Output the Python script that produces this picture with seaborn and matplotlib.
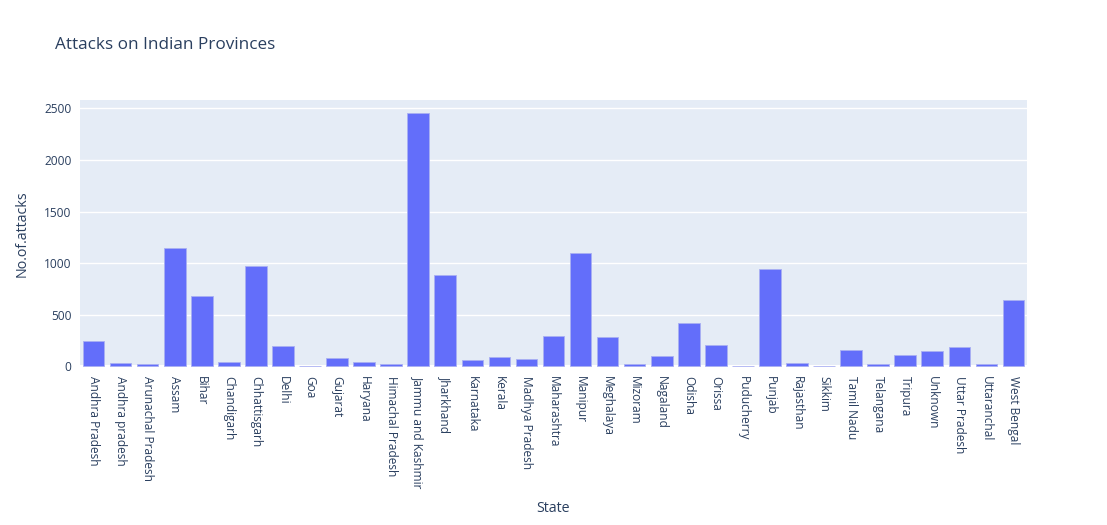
import pandas as pd
import seaborn as sns
import matplotlib.pyplot as plt


states = ['Andhra Pradesh', 'Andhra pradesh', 'Arunachal Pradesh', 'Assam', 'Bihar',
          'Chandigarh', 'Chhattisgarh', 'Delhi', 'Goa', 'Gujarat', 'Haryana',
          'Himachal Pradesh', 'Jammu and Kashmir', 'Jharkhand', 'Karnataka', 'Kerala',
          'Madhya Pradesh', 'Maharashtra', 'Manipur', 'Meghalaya', 'Mizoram', 'Nagaland',
          'Odisha', 'Orissa', 'Puducherry', 'Punjab', 'Rajasthan', 'Sikkim', 'Tamil Nadu',
          'Telangana', 'Tripura', 'Unknown', 'Uttar Pradesh', 'Uttaranchal', 'West Bengal']
attacks = [245, 36, 20, 1145, 685, 42, 972, 203, 2, 78, 45,
           20, 2450, 882, 64, 90, 68, 296, 1097, 286, 20, 106,
           420, 212, 1, 945, 35, 1, 158, 20, 109, 148, 193, 20, 647]

df = pd.DataFrame({'State': states, 'No.of.attacks': attacks})

txt = '#2a3f5f'
plt.rcParams['font.family'] = ['Open Sans', 'DejaVu Sans']

fig = plt.figure(figsize=(11.07, 5.25), dpi=100)
ax = fig.add_axes([80 / 1107, 1 - 367.3 / 525, 947 / 1107, 267.3 / 525])
ax.set_facecolor('#E5ECF6')

sns.barplot(data=df, x='State', y='No.of.attacks', color='#636efa', saturation=1,
            width=0.8, edgecolor='#a9b0f3', linewidth=0.6, ax=ax, zorder=3)

ax.set_xlim(-0.5, len(states) - 0.5)
ax.set_ylim(-8, 2580)
ax.set_yticks([0, 500, 1000, 1500, 2000, 2500])
ax.grid(axis='y', color='white', linewidth=1, zorder=0)
ax.axhline(0, color='white', linewidth=1.5, zorder=2)
for s in ax.spines.values():
    s.set_visible(False)
ax.tick_params(length=0, colors=txt, labelsize=8.6)
ax.tick_params(axis='x', pad=6)
ax.tick_params(axis='y', pad=6)
plt.setp(ax.get_xticklabels(), rotation=270, ha='center', va='top')

# plotly-like axis titles, centred on fixed pixel positions
ax.set_xlabel('State', fontsize=10.3, color=txt, va='center')
ax.xaxis.set_label_coords(0.5, -141 / 267.3)
ax.set_ylabel('No.of.attacks', fontsize=10.3, color=txt, va='center')
ax.yaxis.set_label_coords(-58 / 947, 0.5)

fig.text(55 / 1107, 1 - 45 / 525, 'Attacks on Indian Provinces', fontsize=12.3,
         color=txt, va='center', ha='left')

fig.savefig('out.png', dpi=100)
